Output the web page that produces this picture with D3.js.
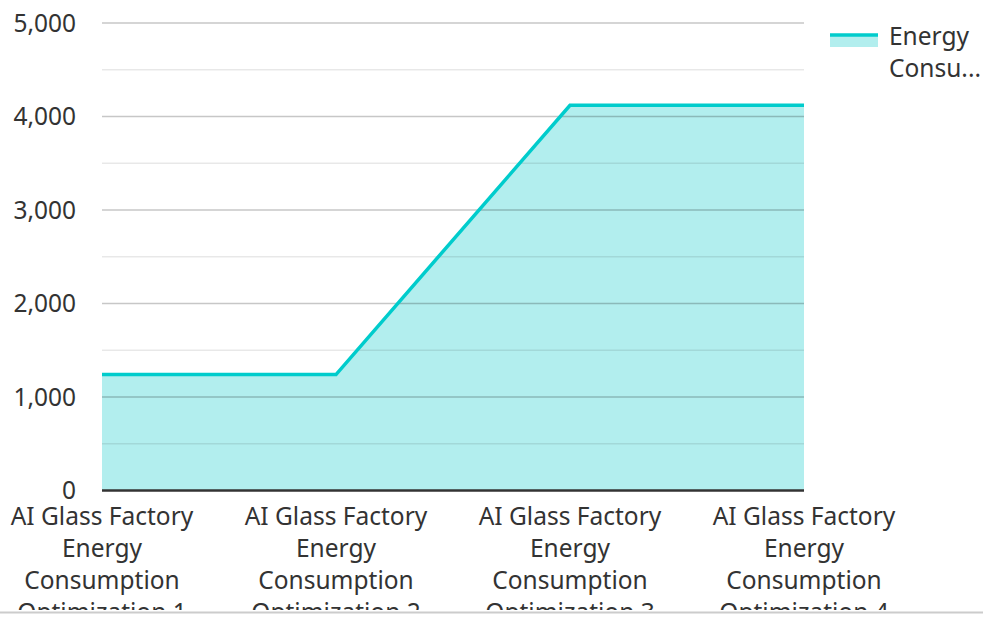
<!DOCTYPE html>
<html>
<head>
<meta charset="utf-8">
<script src="https://cdn.jsdelivr.net/npm/d3@7"></script>
<style>
  body { margin: 0; background: #fff; }
  text { font-family: "Noto Sans", "Open Sans", sans-serif; fill: #333; }
</style>
</head>
<body>
<div id="chart"></div>
<script>

var categories = [
    "AI Glass Factory Energy Consumption Optimization 1",
    "AI Glass Factory Energy Consumption Optimization 2",
    "AI Glass Factory Energy Consumption Optimization 3",
    "AI Glass Factory Energy Consumption Optimization 4"
];
var labelLines = [
    ["AI Glass Factory", "Energy", "Consumption", "Optimization 1"],
    ["AI Glass Factory", "Energy", "Consumption", "Optimization 2"],
    ["AI Glass Factory", "Energy", "Consumption", "Optimization 3"],
    ["AI Glass Factory", "Energy", "Consumption", "Optimization 4"]
];
var energyValues = [1240, 1240, 4120, 4120];
var yTicks = [0, 1000, 2000, 3000, 4000, 5000];
var yMinorTicks = [500, 1500, 2500, 3500, 4500];
var seriesName = "Energy Consumption";

function createChart() {

    var width = 983;
    var height = 617;
    var fontSize = "24.5px";

    var margin = { top: 23, left: 102, right: 179, bottom: 126.5 };

    var svg = d3.select("#chart").append("svg")
        .attr("width", width)
        .attr("height", height);

    svg.append("clipPath").attr("id", "clip")
        .append("rect")
        .attr("x", 0).attr("y", 0)
        .attr("width", width).attr("height", 610);

    var g = svg.append("g").attr("clip-path", "url(#clip)");

    var x = d3.scalePoint()
        .domain(categories)
        .range([margin.left, width - margin.right]);

    var y = d3.scaleLinear()
        .domain([0, 5000])
        .range([height - margin.bottom, margin.top]);

    var data = categories.map(function(c, i) { return { cat: c, v: energyValues[i] }; });

    // area fill
    g.append("path")
        .datum(data)
        .attr("fill", "#b2eeee")
        .attr("d", d3.area()
            .x(function(d) { return x(d.cat); })
            .y0(y(0))
            .y1(function(d) { return y(d.v); }));

    // gridlines over the fill
    g.selectAll(".minor").data(yMinorTicks).enter().append("line")
        .attr("x1", margin.left).attr("x2", width - margin.right)
        .attr("y1", function(d) { return y(d); })
        .attr("y2", function(d) { return y(d); })
        .attr("stroke", "rgba(0,0,0,0.09)")
        .attr("stroke-width", 1.5);

    g.selectAll(".major").data(yTicks.slice(1)).enter().append("line")
        .attr("x1", margin.left).attr("x2", width - margin.right)
        .attr("y1", function(d) { return y(d); })
        .attr("y2", function(d) { return y(d); })
        .attr("stroke", "rgba(0,0,0,0.22)")
        .attr("stroke-width", 1.5);

    // line
    g.append("path")
        .datum(data)
        .attr("fill", "none")
        .attr("stroke", "#00cccc")
        .attr("stroke-width", 3.5)
        .attr("stroke-linejoin", "miter")
        .attr("d", d3.line()
            .x(function(d) { return x(d.cat); })
            .y(function(d) { return y(d.v); }));

    // x axis line
    g.append("line")
        .attr("x1", margin.left).attr("x2", width - margin.right)
        .attr("y1", y(0)).attr("y2", y(0))
        .attr("stroke", "#333")
        .attr("stroke-width", 2.5);

    // y labels
    g.selectAll(".ylab").data(yTicks).enter().append("text")
        .attr("x", 76)
        .attr("y", function(d) { return y(d); })
        .attr("dy", "0.35em")
        .attr("text-anchor", "end")
        .style("font-size", fontSize)
        .text(function(d) { return d3.format(",")(d); });

    // x labels
    var xl = g.selectAll(".xlab").data(categories).enter().append("text")
        .attr("x", function(d) { return x(d); })
        .attr("y", 516)
        .attr("text-anchor", "middle")
        .style("font-size", fontSize);
    xl.each(function(d, i) {
        var t = d3.select(this);
        labelLines[i].forEach(function(line, j) {
            t.append("tspan")
                .attr("x", x(d))
                .attr("y", 516 + j * 32)
                .attr("dy", "0.35em")
                .text(line);
        });
    });

    // legend
    var lg = svg.append("g");
    lg.append("rect")
        .attr("x", 830).attr("y", 35)
        .attr("width", 48).attr("height", 12)
        .attr("fill", "#b2eeee");
    lg.append("line")
        .attr("x1", 830).attr("x2", 878)
        .attr("y1", 35).attr("y2", 35)
        .attr("stroke", "#00cccc")
        .attr("stroke-width", 3.5);
    lg.append("text")
        .attr("x", 889).attr("y", 36).attr("dy", "0.35em")
        .style("font-size", fontSize)
        .text("Energy");
    lg.append("text")
        .attr("x", 889).attr("y", 68).attr("dy", "0.35em")
        .style("font-size", fontSize)
        .text("Consu...");

    // bottom border
    svg.append("line")
        .attr("x1", 0).attr("x2", width)
        .attr("y1", 612.5).attr("y2", 612.5)
        .attr("stroke", "#ccc")
        .attr("stroke-width", 2);
}

createChart();
</script>
</body>
</html>
